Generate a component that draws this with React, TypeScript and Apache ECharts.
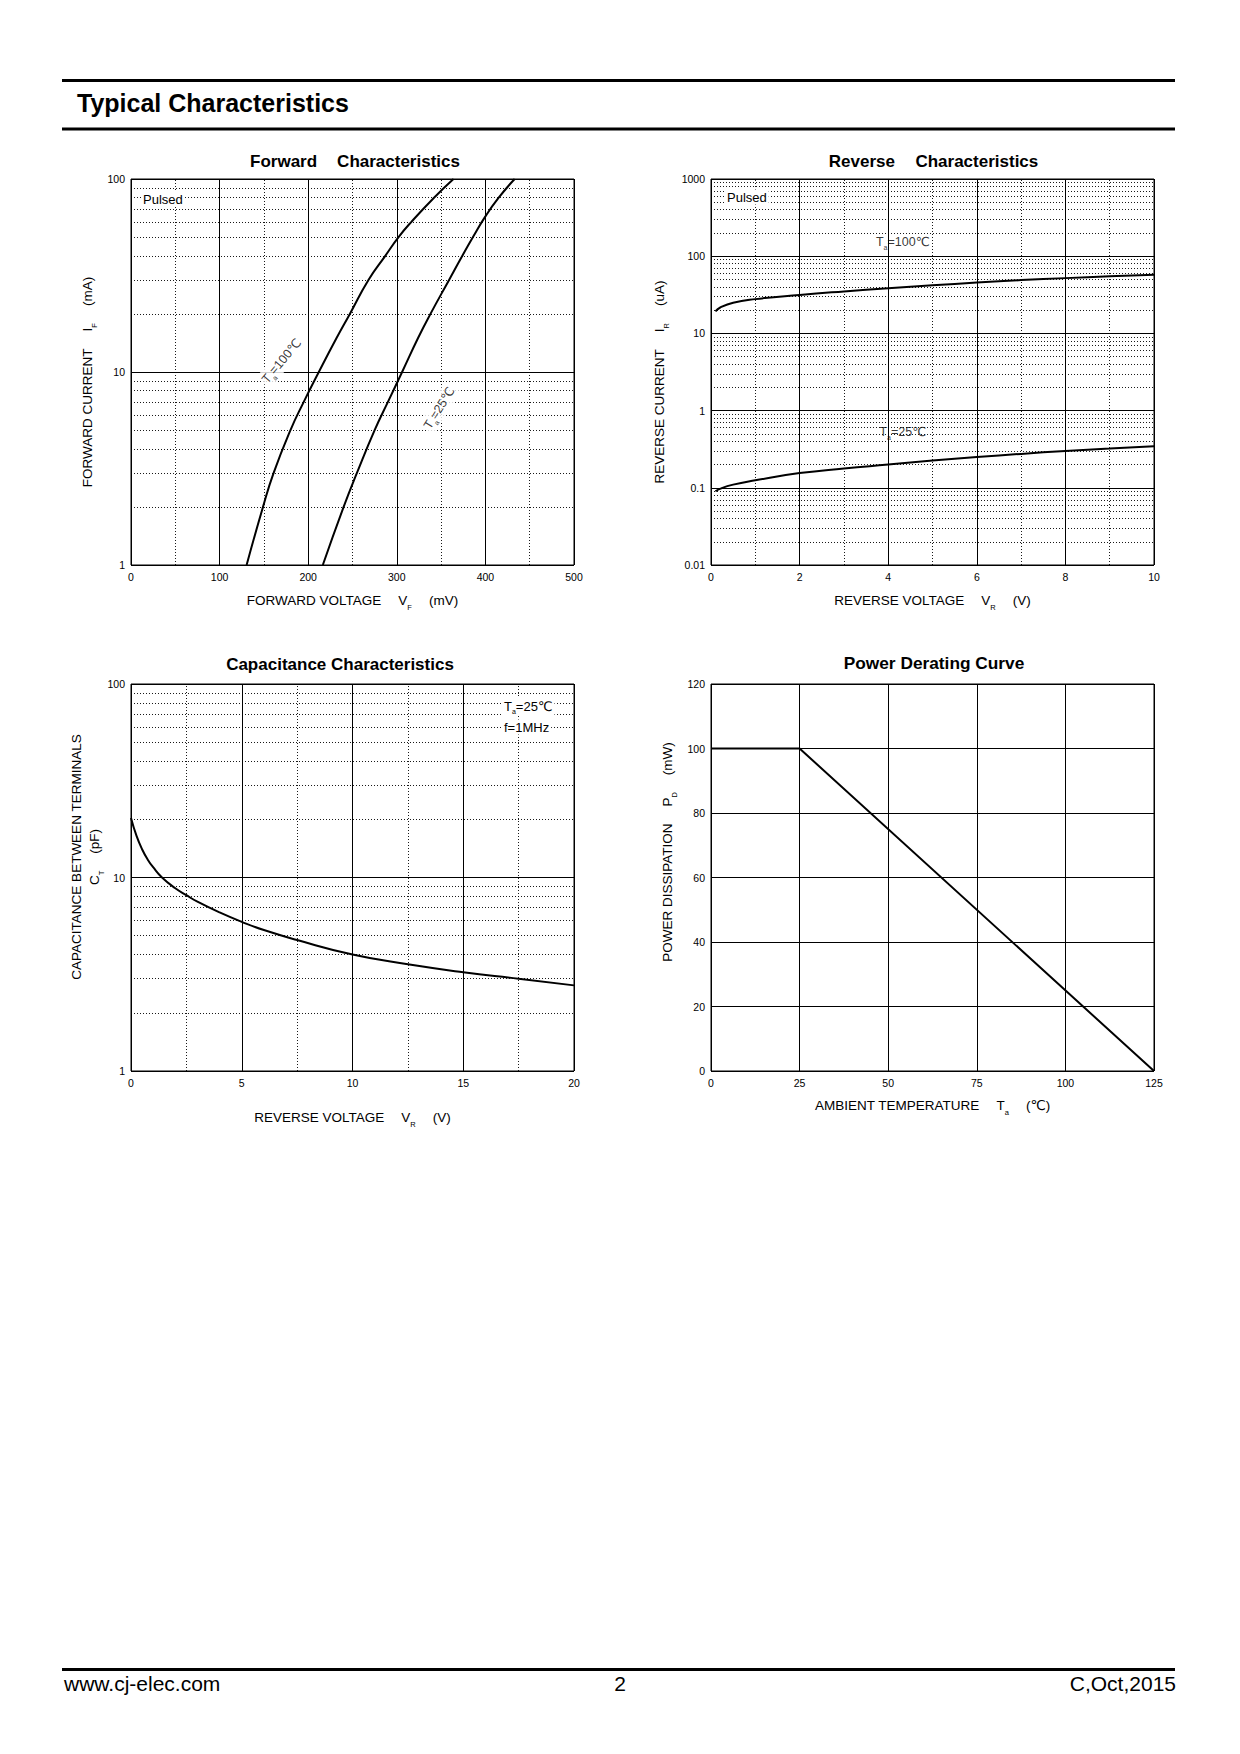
import React, { useEffect, useRef } from "react";
import * as echarts from "echarts";

const FONT = "'Liberation Sans', Arial, 'DejaVu Sans', sans-serif";

// ---------------- Data ----------------
// Forward characteristics: VF (mV) -> IF (mA)
const fwd100VF = [130.5, 149, 161, 180, 195, 212, 232, 247, 268, 287, 302, 316.5, 342, 364];
const fwd100IF = [1, 2, 3, 5, 7, 10, 15, 20, 30, 40, 50, 60, 80, 100];
const fwd25VF = [216.5, 240, 255, 275, 290, 306, 324, 338, 359, 374, 386, 400, 415, 433];
const fwd25IF = [1, 2, 3, 5, 7, 10, 15, 20, 30, 40, 50, 64, 80, 100];
const fwdXMinor = [50, 150, 250, 350, 450];
const fwdYMinor = [2, 3, 4, 5, 6, 7, 8, 9, 20, 30, 40, 50, 60, 70, 80, 90];
const fwdLabels = [
  { temp: "100", vf: 170, iF: 11.4, rotate: 50 },
  { temp: "25", vf: 348, iF: 6.5, rotate: 58 },
];

// Reverse characteristics: VR (V) -> IR (uA)
const revVR = [0.1, 0.2, 0.5, 1, 2, 3, 4, 5, 6, 7, 8, 9, 10];
const rev100IR = [19.3, 21.5, 25, 27.8, 31.5, 35, 38.5, 42, 45.5, 49, 52, 55, 57.5];
const rev25IR = [0.09, 0.097, 0.11, 0.125, 0.155, 0.178, 0.2, 0.225, 0.25, 0.275, 0.3, 0.322, 0.345];
const revXMinor = [1, 3, 5, 7, 9];
const revYMinor = [
  0.02, 0.03, 0.04, 0.05, 0.06, 0.07, 0.08, 0.09,
  0.2, 0.3, 0.4, 0.5, 0.6, 0.7, 0.8, 0.9,
  2, 3, 4, 5, 6, 7, 8, 9,
  20, 30, 40, 50, 60, 70, 80, 90,
  200, 300, 400, 500, 600, 700, 800, 900,
];
const revLabels = [
  { temp: "100", vr: 4.33, ir: 151 },
  { temp: "25", vr: 4.33, ir: 0.53 },
];

// Capacitance characteristics: VR (V) -> CT (pF)
const capVR = [0, 0.25, 0.5, 0.75, 1, 1.4, 2, 2.5, 3, 4, 5, 6, 7.5, 10, 12.5, 15, 17.5, 20];
const capCT = [20.3, 16.4, 14, 12.4, 11.3, 10, 8.8, 8.1, 7.5, 6.6, 5.9, 5.35, 4.75, 4.0, 3.56, 3.24, 3.0, 2.77];
const capXMinor = [2.5, 7.5, 12.5, 17.5];
const capYMinor = [2, 3, 4, 5, 6, 7, 8, 9, 20, 30, 40, 50, 60, 70, 80, 90];

// Power derating: Ta (C) -> PD (mW)
const pwrTa = [0, 25, 125];
const pwrPD = [100, 100, 0];

// ---------------- Layout ----------------
const GRIDS = [
  { left: 131, top: 179, width: 443, height: 386 },
  { left: 711, top: 179, width: 443, height: 386 },
  { left: 131, top: 684, width: 443, height: 387 },
  { left: 711, top: 684, width: 443, height: 387 },
];

const BLACK = "#000";
const NAME_SIZE = 13.5;
const GAP = 17;

const nameRich = {
  a: { fontSize: NAME_SIZE, fontFamily: FONT, color: BLACK, lineHeight: 22 },
  g: { fontSize: NAME_SIZE, fontFamily: FONT, color: BLACK, lineHeight: 22, padding: [0, 0, 0, GAP] },
  s: { fontSize: 7.5, fontFamily: FONT, color: BLACK, lineHeight: 8, verticalAlign: "bottom" },
};

const gNameRich = {
  a: { fontSize: NAME_SIZE, fontFamily: FONT, fill: BLACK, lineHeight: 22 },
  g: { fontSize: NAME_SIZE, fontFamily: FONT, fill: BLACK, lineHeight: 22, padding: [0, 0, 0, GAP] },
  s: { fontSize: 7.5, fontFamily: FONT, fill: BLACK, lineHeight: 8, verticalAlign: "bottom" },
};

const labelRich = {
  t: { fontSize: 12.5, fontFamily: FONT, color: BLACK, lineHeight: 18 },
  s: { fontSize: 7, fontFamily: FONT, color: BLACK, lineHeight: 7, verticalAlign: "bottom" },
};

const gLabelRich = {
  t: { fontSize: 13, fontFamily: FONT, fill: BLACK, lineHeight: 18 },
  s: { fontSize: 7, fontFamily: FONT, fill: BLACK, lineHeight: 7, verticalAlign: "bottom" },
};

const fmtNum = (v: number) => `${parseFloat(Number(v).toPrecision(4))}`;

const axisLabelStyle = { color: BLACK, fontSize: 10.5, fontFamily: FONT, margin: 6, formatter: fmtNum };
const yAxisLabelStyle = { ...axisLabelStyle, padding: [0, 0, 3, 0] };
const splitSolid = { show: true, lineStyle: { color: BLACK, width: 1, type: "solid" } };

function xAxis(gridIndex: number, min: number, max: number, interval: number, name: string, nameGap: number) {
  return {
    type: "value",
    gridIndex,
    min,
    max,
    interval,
    axisLine: { show: false },
    axisTick: { show: false },
    axisLabel: axisLabelStyle,
    splitLine: splitSolid,
    name,
    nameLocation: "middle",
    nameGap,
    nameMoveOverlap: false,
    nameTextStyle: { rich: nameRich, fontFamily: FONT, fontSize: NAME_SIZE, color: BLACK },
  };
}

function logYAxis(gridIndex: number, min: number, max: number) {
  return {
    type: "log",
    logBase: 10,
    gridIndex,
    min,
    max,
    axisLine: { show: false },
    axisTick: { show: false },
    axisLabel: yAxisLabelStyle,
    splitLine: splitSolid,
  };
}

function minorSeries(idx: number, xs: number[], ys: number[]) {
  return {
    type: "line",
    xAxisIndex: idx,
    yAxisIndex: idx,
    data: [],
    silent: true,
    z: 1,
    markLine: {
      silent: true,
      symbol: ["none", "none"],
      label: { show: false },
      animation: false,
      lineStyle: { color: BLACK, width: 1, type: [1, 2], opacity: 0.9 },
      emphasis: { disabled: true },
      data: [...ys.map((v) => ({ yAxis: v })), ...xs.map((v) => ({ xAxis: v }))],
    },
  };
}

function curve(idx: number, xs: number[], ys: number[], smooth: number | boolean) {
  return {
    type: "line",
    xAxisIndex: idx,
    yAxisIndex: idx,
    data: xs.map((x, i) => [x, ys[i]]),
    showSymbol: false,
    symbol: "none",
    smooth,
    silent: true,
    z: 5,
    lineStyle: { color: BLACK, width: 2 },
  };
}

function tempLabels(idx: number, items: { x: number; y: number; temp: string; rotate: number; bg: boolean }[]) {
  return {
    type: "scatter",
    xAxisIndex: idx,
    yAxisIndex: idx,
    symbolSize: 1,
    silent: true,
    z: 8,
    itemStyle: { color: "rgba(0,0,0,0)" },
    data: items.map((it) => ({
      value: [it.x, it.y],
      label: {
        show: true,
        position: "inside",
        rotate: it.rotate,
        color: BLACK,
        formatter: `{t|T}{s|a}{t|=${it.temp}℃}`,
        rich: labelRich,
        backgroundColor: it.bg ? "#fff" : "transparent",
        padding: it.bg ? [0, 2] : 0,
      },
    })),
  };
}

function gText(x: number, y: number, text: string, opts: any = {}) {
  return {
    type: "text",
    x,
    y,
    z: 100,
    silent: true,
    rotation: opts.rotation || 0,
    style: {
      text,
      fill: BLACK,
      fontFamily: FONT,
      fontSize: opts.fontSize || 13,
      fontWeight: opts.fontWeight || "normal",
      textAlign: opts.align || "center",
      textVerticalAlign: "middle",
      rich: opts.rich,
      backgroundColor: opts.bg,
      padding: opts.padding,
    },
  };
}

function titleRich(size: number, gap: number) {
  return {
    a: { fontSize: size, fontWeight: "bold", fontFamily: FONT, fill: BLACK },
    b: { fontSize: size, fontWeight: "bold", fontFamily: FONT, fill: BLACK, padding: [0, 0, 0, gap] },
  };
}

function lineRect(x: number, y: number, w: number, h: number) {
  return { type: "rect", z: 100, silent: true, shape: { x, y, width: w, height: h }, style: { fill: BLACK } };
}

function buildOption() {
  const grids = GRIDS.map((g) => ({
    ...g,
    show: true,
    borderColor: BLACK,
    borderWidth: 1,
    backgroundColor: "transparent",
    containLabel: false,
    outerBoundsMode: "none",
  }));

  const xAxes = [
    xAxis(0, 0, 500, 100, `{a|FORWARD VOLTAGE}{g|V}{s|F}{g|(mV)}`, 24),
    xAxis(1, 0, 10, 2, `{a|REVERSE VOLTAGE}{g|V}{s|R}{g|(V)}`, 24),
    xAxis(2, 0, 20, 5, `{a|REVERSE VOLTAGE}{g|V}{s|R}{g|(V)}`, 35),
    xAxis(3, 0, 125, 25, `{a|AMBIENT TEMPERATURE}{g|T}{s|a}{g|(℃)}`, 23),
  ];

  const yAxes = [
    logYAxis(0, 1, 100),
    logYAxis(1, 0.01, 1000),
    logYAxis(2, 1, 100),
    {
      type: "value",
      gridIndex: 3,
      min: 0,
      max: 120,
      interval: 20,
      axisLine: { show: false },
      axisTick: { show: false },
      axisLabel: yAxisLabelStyle,
      splitLine: splitSolid,
    },
  ];

  const series: any[] = [
    minorSeries(0, fwdXMinor, fwdYMinor),
    curve(0, fwd100VF, fwd100IF, 0.5),
    curve(0, fwd25VF, fwd25IF, 0.5),
    tempLabels(
      0,
      fwdLabels.map((l) => ({ x: l.vf, y: l.iF, temp: l.temp, rotate: l.rotate, bg: true }))
    ),
    minorSeries(1, revXMinor, revYMinor),
    curve(1, revVR, rev100IR, 0.5),
    curve(1, revVR, rev25IR, 0.5),
    tempLabels(
      1,
      revLabels.map((l) => ({ x: l.vr, y: l.ir, temp: l.temp, rotate: 0, bg: false }))
    ),
    minorSeries(2, capXMinor, capYMinor),
    curve(2, capVR, capCT, 0.5),
    curve(3, pwrTa, pwrPD, false),
  ];

  const graphic: any[] = [
    // header
    lineRect(62, 79, 1113, 3),
    gText(77, 103, "Typical Characteristics", { fontSize: 25, fontWeight: "bold", align: "left" }),
    lineRect(62, 127.5, 1113, 3),
    // footer
    lineRect(62, 1668, 1113, 3),
    gText(64, 1683, "www.cj-elec.com", { fontSize: 21, align: "left" }),
    gText(620, 1683, "2", { fontSize: 21 }),
    gText(1176, 1683, "C,Oct,2015", { fontSize: 21, align: "right" }),
    // chart titles
    gText(355, 161, "{a|Forward}{b|Characteristics}", { rich: titleRich(17, 20) }),
    gText(933.5, 161, "{a|Reverse}{b|Characteristics}", { rich: titleRich(17, 20.5) }),
    gText(340, 664, "Capacitance Characteristics", { fontSize: 17, fontWeight: "bold" }),
    gText(934, 663, "Power Derating Curve", { fontSize: 17.3, fontWeight: "bold" }),
    // y axis names
    gText(87.5, 382, "{a|FORWARD CURRENT}{g|I}{s|F}{g|(mA)}", { rich: gNameRich, rotation: Math.PI / 2 }),
    gText(659, 382, "{a|REVERSE CURRENT}{g|I}{s|R}{g|(uA)}", { rich: gNameRich, rotation: Math.PI / 2 }),
    gText(76.5, 857, "CAPACITANCE BETWEEN TERMINALS", { fontSize: NAME_SIZE, rotation: Math.PI / 2 }),
    gText(94.5, 857, "{a|C}{s|T}{g|(pF)}", { rich: gNameRich, rotation: Math.PI / 2 }),
    gText(667, 852, "{a|POWER DISSIPATION}{g|P}{s|D}{g|(mW)}", { rich: gNameRich, rotation: Math.PI / 2 }),
    // annotations
    gText(141, 199, "Pulsed", { fontSize: 13, align: "left", bg: "#fff", padding: [1, 2] }),
    gText(725, 197, "Pulsed", { fontSize: 13, align: "left", bg: "#fff", padding: [1, 2] }),
    gText(502, 706, "{t|T}{s|a}{t|=25℃}", { rich: gLabelRich, align: "left", bg: "#fff", padding: [0, 2] }),
    gText(502, 727, "f=1MHz", { fontSize: 13, align: "left", bg: "#fff", padding: [1, 2] }),
  ];

  return {
    animation: false,
    backgroundColor: "#fff",
    textStyle: { fontFamily: FONT, color: BLACK },
    grid: grids,
    xAxis: xAxes,
    yAxis: yAxes,
    series,
    graphic: { elements: graphic },
  };
}

export default function App() {
  const ref = useRef<HTMLDivElement>(null);
  useEffect(() => {
    const chart = echarts.init(ref.current as HTMLDivElement, undefined, { renderer: "svg" });
    chart.setOption(buildOption() as any);
    return () => chart.dispose();
  }, []);
  return (
    <div
      ref={ref}
      style={{ position: "absolute", left: 0, top: 0, width: 1240, height: 1754, background: "#fff" }}
    />
  );
}
